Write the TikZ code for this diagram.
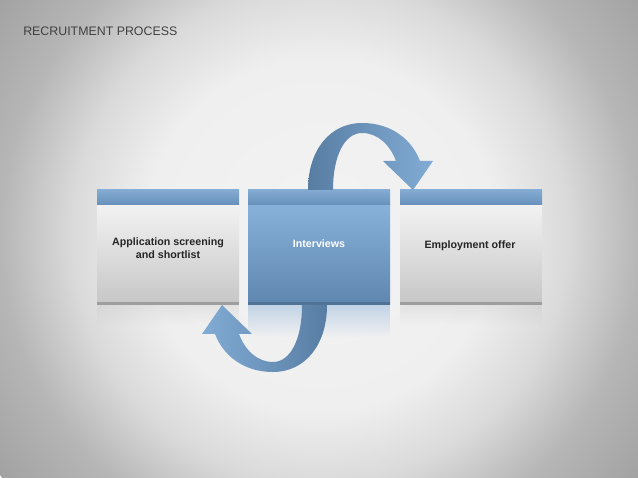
\documentclass[tikz,border=0pt]{standalone}
\usepackage{fontspec}
\setmainfont{Liberation Sans}
\usetikzlibrary{fadings}
\definecolor{bgc}{HTML}{F3F3F3}
\definecolor{bgl}{HTML}{EFEFEF}
\definecolor{bgm}{HTML}{DADADA}
\definecolor{bgd}{HTML}{B6B6B6}
\definecolor{bge}{HTML}{A2A2A2}
\definecolor{hdrtop}{HTML}{84ABD2}
\definecolor{hdrbot}{HTML}{6690BB}
\definecolor{gtop}{HTML}{F2F2F2}
\definecolor{gbot}{HTML}{C6C6C6}
\definecolor{gedge}{HTML}{9E9E9E}
\definecolor{btop}{HTML}{88B1DA}
\definecolor{bbot}{HTML}{5E86AF}
\definecolor{arrdark}{HTML}{587DA3}
\definecolor{arrlight}{HTML}{82ACD5}
\definecolor{txt}{HTML}{262626}
\definecolor{ttl}{HTML}{404040}
\pgfdeclareradialshading{slidebg}{\pgfpoint{0bp}{0bp}}{color(0bp)=(bgc); color(11bp)=(bgl); color(15.5bp)=(bgm); color(20bp)=(bgd); color(25bp)=(bge); color(50bp)=(bge)}

\begin{document}
\begin{tikzpicture}[x=0.025cm,y=-0.025cm,
  hdr/.style={top color=hdrtop,bottom color=hdrbot},
  graybody/.style={top color=gtop,bottom color=gbot},
  bluebody/.style={top color=btop,bottom color=bbot},
  lbl/.style={font=\fontsize{7.6}{9.2}\selectfont\bfseries,align=center,text=txt,inner sep=0pt}]
\useasboundingbox (0,0) rectangle (638,478);
\begin{scope}
\clip (0,0) rectangle (638,478);
\shade[shading=slidebg] (320,235) circle (400);
\end{scope}
\node[anchor=west,inner sep=0pt,text=ttl,font=\fontsize{8.8}{10}\selectfont] (title) at (23,31) {RECRUITMENT PROCESS};
% reflections
\fill[btop,path fading=south,opacity=0.45] (248,305) rectangle (390,337);
\fill[gbot,path fading=south,opacity=0.3] (97,305) rectangle (239,325);
\fill[gbot,path fading=south,opacity=0.3] (400,305) rectangle (542,325);
% boxes
\shade[graybody] (97,205) rectangle (239,305);
\fill[gedge] (97,302) rectangle (239,305);
\shade[hdr] (97,190) rectangle (239,205);
\shade[bluebody] (248,205) rectangle (390,305);
\fill[bbot!85!black] (248,302) rectangle (390,305);
\shade[hdr] (248,190) rectangle (390,205);
\shade[graybody] (400,205) rectangle (542,305);
\fill[gedge] (400,302) rectangle (542,305);
\shade[hdr] (400,190) rectangle (542,205);
\node[lbl] (screen) at (168,248) {Application screening\\and shortlist};
\node[lbl,text=white] (interv) at (319,244) {Interviews};
\node[lbl] (offer) at (470,246) {Employment offer};
% curved arrows
\shade[left color=arrdark,right color=arrlight]
  (308,190) .. controls (308,150) and (330,123) .. (362,123)
  .. controls (392,123) and (412,140) .. (420,161)
  -- (433,161) -- (413,190) -- (383,161) -- (396,161)
  .. controls (390,145) and (378,133) .. (362,133)
  .. controls (345,133) and (333,155) .. (333,190) -- cycle;
\shade[left color=arrlight,right color=arrdark]
  (327,305) .. controls (327,345) and (305,372) .. (273,372)
  .. controls (243,372) and (223,355) .. (215,334)
  -- (202,334) -- (222,305) -- (252,334) -- (239,334)
  .. controls (245,350) and (257,362) .. (273,362)
  .. controls (290,362) and (302,340) .. (302,305) -- cycle;
\end{tikzpicture}
\end{document}
